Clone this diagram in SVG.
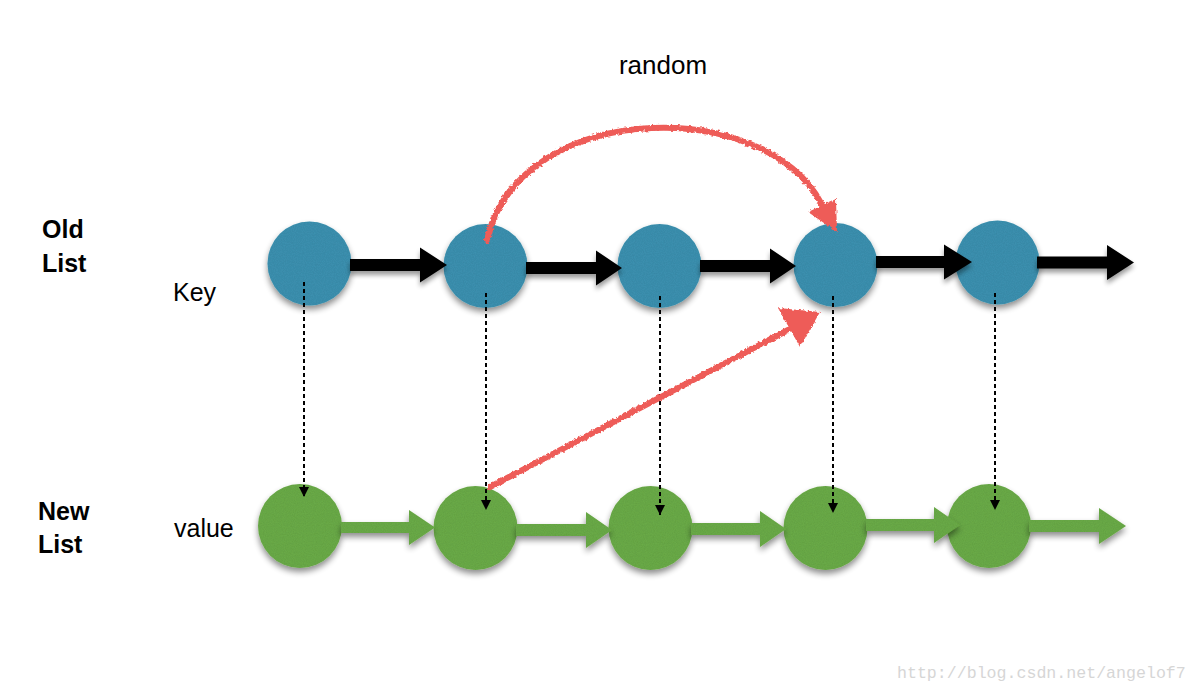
<svg xmlns="http://www.w3.org/2000/svg" width="1198" height="694" viewBox="0 0 1198 694">
<defs>
<style>
.lbl{font-family:"Liberation Sans",Arial,sans-serif;font-size:25px;fill:#000}
.bold{font-weight:bold;font-size:25px}
.blue{fill:#3d93b2}
.green{fill:#6cad49}
.blk{fill:#000}
.grn{fill:#6cad49}
.dash{stroke:#000;stroke-width:2;stroke-dasharray:4 3;fill:none}
.red{stroke:#ee5c58;stroke-width:6;fill:none;stroke-linecap:round}
.redfill{fill:#ee5c58}
.wm{font-family:"Liberation Mono","DejaVu Sans Mono",monospace;font-size:16.6px;fill:#d6d6d6}
</style>
<filter id="shadow" x="-20%" y="-20%" width="140%" height="160%">
<feTurbulence type="fractalNoise" baseFrequency="0.9" numOctaves="2" seed="3" result="noise"/>
<feColorMatrix in="noise" type="matrix" values="0 0 0 0 0  0 0 0 0 0  0 0 0 0 0  0 0 0 0.18 0" result="dark"/>
<feComposite in="dark" in2="SourceGraphic" operator="in" result="tex"/>
<feMerge result="textured"><feMergeNode in="SourceGraphic"/><feMergeNode in="tex"/></feMerge>
<feGaussianBlur in="SourceAlpha" stdDeviation="3"/>
<feOffset dx="0" dy="4" result="ob"/>
<feComponentTransfer in="ob" result="sh"><feFuncA type="linear" slope="0.45"/></feComponentTransfer>
<feMerge><feMergeNode in="sh"/><feMergeNode in="textured"/></feMerge>
</filter>
<filter id="plainshadow" x="-10%" y="-30%" width="120%" height="180%">
<feGaussianBlur in="SourceAlpha" stdDeviation="2.5"/>
<feOffset dx="0" dy="4" result="ob"/>
<feComponentTransfer in="ob" result="sh"><feFuncA type="linear" slope="0.4"/></feComponentTransfer>
<feMerge><feMergeNode in="sh"/><feMergeNode in="SourceGraphic"/></feMerge>
</filter>
<filter id="rough" x="-10%" y="-10%" width="120%" height="120%">
<feTurbulence type="fractalNoise" baseFrequency="0.35" numOctaves="2" seed="7" result="n"/>
<feDisplacementMap in="SourceGraphic" in2="n" scale="4" xChannelSelector="R" yChannelSelector="G"/>
</filter>
<marker id="dhead" markerUnits="userSpaceOnUse" markerWidth="10" markerHeight="10" refX="10" refY="5" orient="auto">
<path d="M0,0 L10,5 L0,10 z" fill="#000"/>
</marker>
</defs>
<rect width="1198" height="694" fill="#fff"/>

<g id="labels">
<text class="lbl bold" x="42" y="238">Old</text>
<text class="lbl bold" x="42" y="272">List</text>
<text class="lbl" x="173" y="301">Key</text>
<text class="lbl bold" x="38" y="520">New</text>
<text class="lbl bold" x="38" y="553">List</text>
<text class="lbl" x="174" y="537">value</text>
<text class="lbl" x="663" y="74" text-anchor="middle" style="font-size:26px">random</text>
</g>

<g id="old1"><circle class="blue" cx="309.5" cy="263.5" r="42" filter="url(#shadow)"/></g>
<g id="old2"><circle class="blue" cx="485.5" cy="266" r="42" filter="url(#shadow)"/></g>
<g id="old3"><circle class="blue" cx="659.5" cy="266" r="42" filter="url(#shadow)"/></g>
<g id="old4"><circle class="blue" cx="835.5" cy="265" r="42" filter="url(#shadow)"/></g>
<g id="old5"><circle class="blue" cx="997.5" cy="262.5" r="42" filter="url(#shadow)"/></g>

<g id="new1"><circle class="green" cx="300" cy="526" r="42" filter="url(#shadow)"/></g>
<g id="new2"><circle class="green" cx="475.5" cy="528" r="42" filter="url(#shadow)"/></g>
<g id="new3"><circle class="green" cx="650.5" cy="528" r="42" filter="url(#shadow)"/></g>
<g id="new4"><circle class="green" cx="825.5" cy="528" r="42" filter="url(#shadow)"/></g>
<g id="new5"><circle class="green" cx="989" cy="526" r="42" filter="url(#shadow)"/></g>

<g id="connectors">
<g filter="url(#plainshadow)">
<path class="blk" d="M350,259 H420 V247.5 L447,265 L420,282.5 V271 H350 z"/>
<path class="blk" d="M526,262 H596 V250.5 L622,268 L596,285.5 V274 H526 z"/>
<path class="blk" d="M700,260 H770 V248.5 L796,266 L770,283.5 V272 H700 z"/>
<path class="blk" d="M876,256 H944 V244.5 L972,262 L944,279.5 V268 H876 z"/>
<path class="blk" d="M1037,256.5 H1107 V245 L1134,262.5 L1107,280 V268.5 H1037 z"/>
</g>
<g filter="url(#shadow)">
<path class="grn" d="M341,522 H409 V510 L435,527.5 L409,545 V533 H341 z"/>
<path class="grn" d="M516,524 H586 V512 L612,530 L586,548 V536 H516 z"/>
<path class="grn" d="M691,523 H760 V511 L786,529 L760,547 V535 H691 z"/>
<path class="grn" d="M866,519 H934 V507 L960,525 L934,543 V531 H866 z"/>
<path class="grn" d="M1029,520 H1099 V508 L1126,526 L1099,544 V532 H1029 z"/>
</g>
<path class="dash" d="M304,282 V497" marker-end="url(#dhead)"/>
<path class="dash" d="M486,293 V510" marker-end="url(#dhead)"/>
<path class="dash" d="M660,296 V515" marker-end="url(#dhead)"/>
<path class="dash" d="M833,296 V513" marker-end="url(#dhead)"/>
<path class="dash" d="M995,293 V510" marker-end="url(#dhead)"/>
<g filter="url(#rough)">
<path class="red" d="M487,240 C520,95 780,95 826,214"/>
<polygon class="redfill" points="808,212 836,199 837,232"/>
<path class="red" d="M490,487 L788,330"/>
<polygon class="redfill" points="778,308 820,312 800,347"/>
</g>
</g>

<text class="wm" x="897" y="678">http://blog.csdn.net/angelof7</text>
</svg>
